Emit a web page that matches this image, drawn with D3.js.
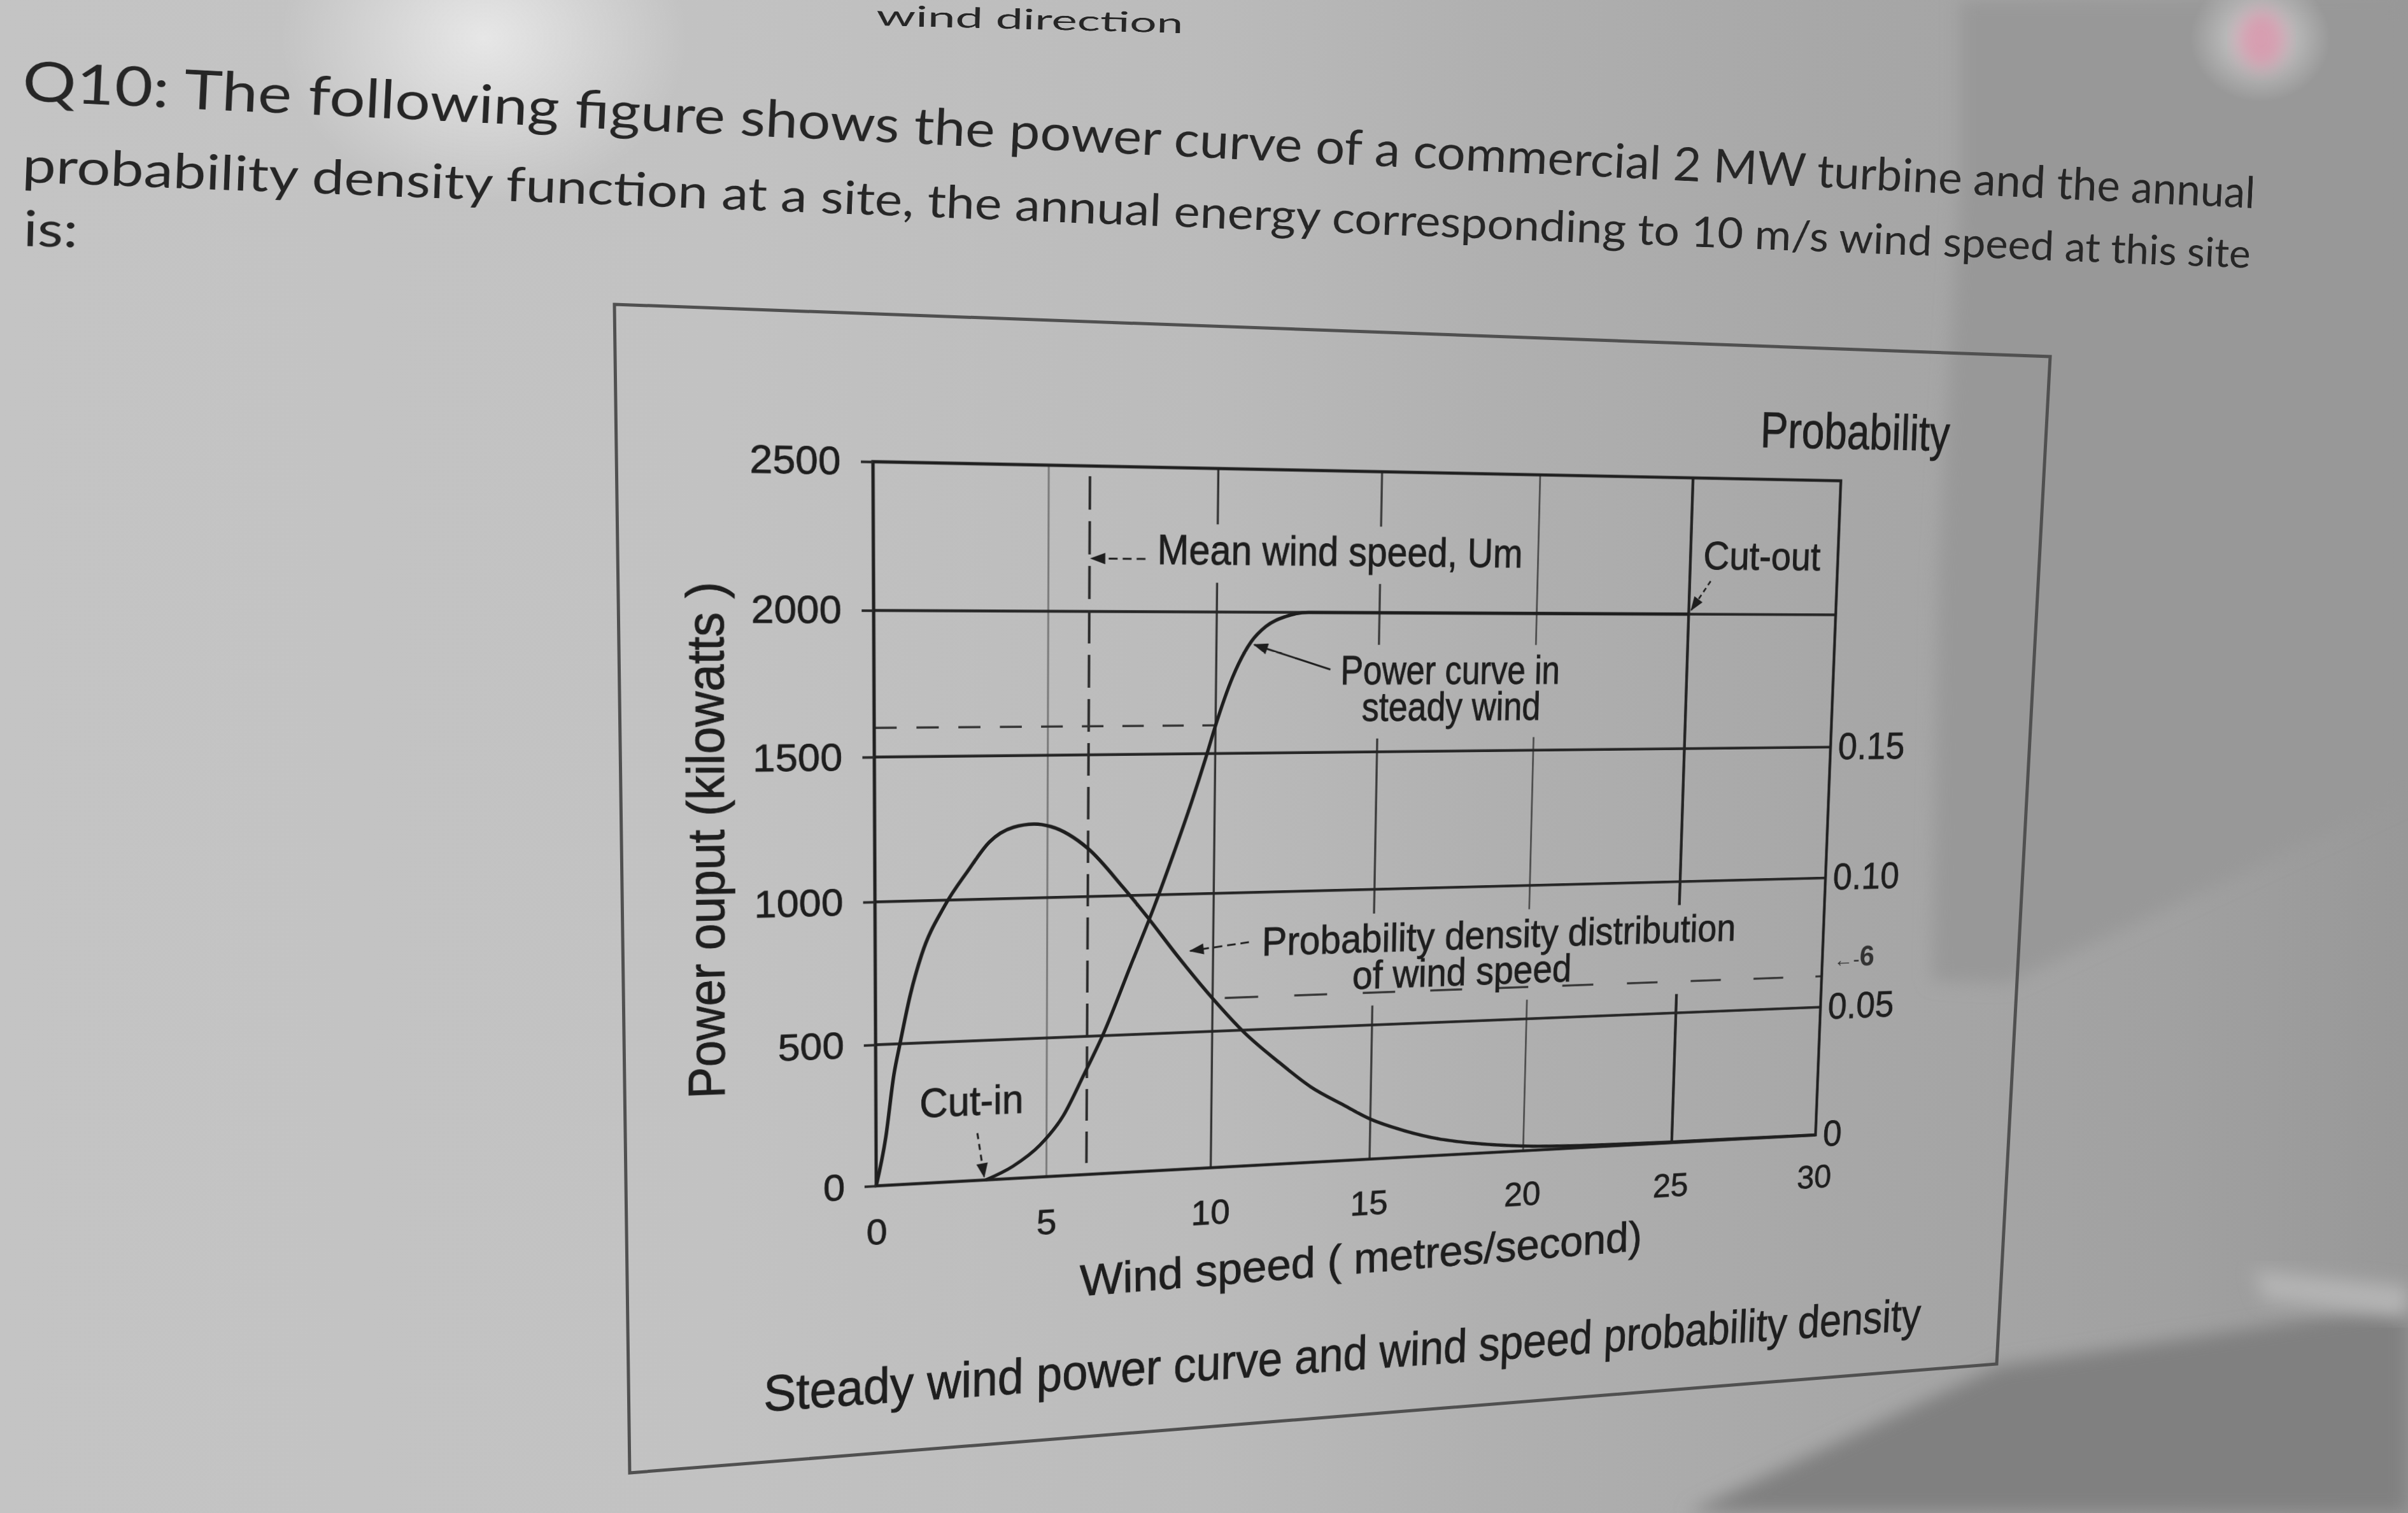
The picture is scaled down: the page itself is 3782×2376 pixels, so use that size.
<!DOCTYPE html>
<html><head><meta charset="utf-8"><title>Steady wind power curve and wind speed probability density</title>
<script src="https://cdn.jsdelivr.net/npm/d3@7"></script>
<style>
html,body{margin:0;padding:0;width:3782px;height:2376px;overflow:hidden;background:#b8b8b8;}
svg.layer{position:absolute;left:0;top:0;transform-origin:0 0;overflow:visible;}
</style></head><body>
<script>
// ---------------- DATA ----------------
const speedTicks = [0,5,10,15,20,25,30];
const powerTicks = [0,500,1000,1500,2000,2500];
const probTicks = [0,0.05,0.10,0.15];
const probTickLabels = ["0","0.05","0.10","0.15"];
const gridSpeeds = [5,10,15,20,25];
const gridPowers = [500,1000,1500,2000];
const powerSpeed = [3.2,4,4.8,5.5,6.1,6.7,7.5,8.2,8.75,9.3,9.7,10,10.5,11.05,11.5,12.1,12.8,14,25];
const powerKW    = [0,44,115,218,360,510,750,960,1140,1330,1480,1600,1770,1895,1950,1985,2000,2000,2000];
const pdfSpeed = [0,0.28,0.52,0.7,1.0,1.33,2,2.67,3.3,4,4.6,5.1,6.2,7.25,8.0,8.9,10,11,12.1,13.1,14.1,15,16.1,17.2,18.3,20,22,25,30];
const pdfProb  = [0,0.017,0.039,0.050,0.067,0.081,0.098,0.110,0.120,0.125,0.126,0.125,0.117,0.103,0.092,0.078,0.062,0.049,0.0375,0.028,0.021,0.015,0.010,0.0063,0.004,0.0018,0.0008,0.0003,0];
const meanSpeed = 6.2, cutInSpeed = 3.2, cutOutSpeed = 25;
const markSpeed = 10, markPower = 1600, markProb = 0.062;
const questionLines = [
  "Q10: The following figure shows the power curve of a commercial 2 MW turbine and the annual",
  "probability density function at a site, the annual energy corresponding to 10 m/s wind speed at this site",
  "is:"
];

// ---------------- LAYOUT ----------------
const W = 3782, H = 2376;
const PL = 1371, PT = 725, PW = 1600, PH = 1137;           // flat plot box
const photoPlot = [[1371,725],[2891,755],[2851,1782],[1376,1862]]; // where it lies in the photo
const INK = "#1e1e1e";
const FONT = "'Liberation Sans', Arial, Helvetica, sans-serif";

// ---------------- homography helpers ----------------
function solveH(src, dst){
  const A=[], b=[];
  for(let i=0;i<4;i++){
    const [u,v]=src[i], [x,y]=dst[i];
    A.push([u,v,1,0,0,0,-u*x,-v*x]); b.push(x);
    A.push([0,0,0,u,v,1,-u*y,-v*y]); b.push(y);
  }
  const n=8;
  for(let c=0;c<n;c++){
    let p=c; for(let r=c+1;r<n;r++) if(Math.abs(A[r][c])>Math.abs(A[p][c])) p=r;
    [A[c],A[p]]=[A[p],A[c]]; [b[c],b[p]]=[b[p],b[c]];
    for(let r=0;r<n;r++){ if(r===c) continue; const f=A[r][c]/A[c][c];
      for(let k=c;k<n;k++) A[r][k]-=f*A[c][k]; b[r]-=f*b[c]; }
  }
  const h=b.map((v,i)=>v/A[i][i]);
  return [[h[0],h[1],h[2]],[h[3],h[4],h[5]],[h[6],h[7],1]];
}
function inv3(m){
  const [a,b,c]=m[0],[d,e,f]=m[1],[g,h,i]=m[2];
  const A=e*i-f*h, B=-(d*i-f*g), C=d*h-e*g, det=a*A+b*B+c*C;
  return [[A/det,-(b*i-c*h)/det,(b*f-c*e)/det],
          [B/det,(a*i-c*g)/det,-(a*f-c*d)/det],
          [C/det,-(a*h-b*g)/det,(a*e-b*d)/det]];
}
function applyH(M,[u,v]){const w=M[2][0]*u+M[2][1]*v+M[2][2];
  return [(M[0][0]*u+M[0][1]*v+M[0][2])/w,(M[1][0]*u+M[1][1]*v+M[1][2])/w];}
function css(M){const s=M[2][2];
  return `matrix3d(${M[0][0]/s},${M[1][0]/s},0,${M[2][0]/s},${M[0][1]/s},${M[1][1]/s},0,${M[2][1]/s},0,0,1,0,${M[0][2]/s},${M[1][2]/s},0,1)`;}

// ---------------- background (photo lighting + frame) ----------------
const bg=d3.select("body").append("svg").attr("class","layer").attr("width",W).attr("height",H);
const bdefs=bg.append("defs");
const lg=bdefs.append("linearGradient").attr("id","bgGrad").attr("x1",0).attr("x2",1).attr("y1",0).attr("y2",0);
[[0,"#c4c4c4"],[0.3,"#c2c2c2"],[0.5,"#bbbbbb"],[0.62,"#b0b0b0"],[0.75,"#a8a8a8"],[0.9,"#a1a1a1"],[1,"#989898"]]
  .forEach(([o,c])=>lg.append("stop").attr("offset",o).attr("stop-color",c));
const rg=bdefs.append("radialGradient").attr("id","hl");
rg.append("stop").attr("offset",0).attr("stop-color","#ffffff").attr("stop-opacity",0.6);
rg.append("stop").attr("offset",1).attr("stop-color","#ffffff").attr("stop-opacity",0);
bdefs.append("filter").attr("id","soft").attr("x","-20%").attr("y","-20%").attr("width","140%").attr("height","140%")
  .append("feGaussianBlur").attr("stdDeviation",14);
bg.append("rect").attr("width",W).attr("height",H).attr("fill","url(#bgGrad)");
bg.append("ellipse").attr("cx",760).attr("cy",60).attr("rx",320).attr("ry",260).attr("fill","url(#hl)");
bg.append("polygon").attr("points","3078,0 3782,0 3782,1250 3150,1545 3035,1540 3045,900 3078,300")
  .attr("fill","#989898").attr("filter","url(#soft)");
bg.append("polygon").attr("points","2650,2376 3140,2145 3782,2050 3782,2376").attr("fill","#808080").attr("filter","url(#soft)");
bg.append("polygon").attr("points","3540,1995 3782,2020 3782,2070 3555,2040").attr("fill","#b4b4b4").attr("filter","url(#soft)");
bg.append("ellipse").attr("cx",3550).attr("cy",60).attr("rx",110).attr("ry",100).attr("fill","url(#hl)");
bg.append("ellipse").attr("cx",3552).attr("cy",62).attr("rx",38).attr("ry",46).attr("fill","#d899ad").attr("opacity",0.9).attr("filter","url(#soft)");
// figure frame
bg.append("polygon").attr("points","965,478 3220,560 3136,2142 989,2313")
  .attr("fill","none").attr("stroke","#505050").attr("stroke-width",5);

// ---------------- question text (per-line perspective) ----------------
function textQuad(str,p0,p1,capL,capR){
  const fs=100, capRatio=0.72, pad=20, base=150;
  const svg=d3.select("body").append("svg").attr("class","layer");
  const t=svg.append("text").attr("x",pad).attr("y",base).attr("font-size",fs)
    .attr("font-family","Lato, 'Open Sans', sans-serif").attr("fill","#262626").text(str);
  const Lm=t.node().getComputedTextLength();
  svg.attr("width",Lm+2*pad).attr("height",base+60);
  const dx=p1[0]-p0[0], dy=p1[1]-p0[1], L=Math.hypot(dx,dy), up=[dy/L,-dx/L];
  const src=[[pad,base-capRatio*fs],[pad+Lm,base-capRatio*fs],[pad+Lm,base],[pad,base]];
  const dst=[[p0[0]+up[0]*capL,p0[1]+up[1]*capL],[p1[0]+up[0]*capR,p1[1]+up[1]*capR],p1,p0];
  svg.style("transform",css(solveH(src,dst)));
}
textQuad("wind direction",[1376,40],[1858,52],32,31);
textQuad(questionLines[0],[34,158],[3541,327],62,49);
textQuad(questionLines[1],[34,286],[3534,421],55,45);
textQuad(questionLines[2],[36,386],[122,388],56,56);

// ---------------- figure (flat drawing, projected onto the photo) ----------------
const Hf=solveH([[PL,PT],[PL+PW,PT],[PL+PW,PT+PH],[PL,PT+PH]],photoPlot), Hfi=inv3(Hf);
const fig=d3.select("body").append("svg").attr("class","layer").attr("width",W).attr("height",H)
  .attr("font-family",FONT).style("transform",css(Hf));
const defs=fig.append("defs");
defs.append("marker").attr("id","head").attr("viewBox","0 0 12 9").attr("refX",11).attr("refY",4.5)
  .attr("markerWidth",26).attr("markerHeight",18).attr("markerUnits","userSpaceOnUse").attr("orient","auto")
  .append("path").attr("d","M0,0 L12,4.5 L0,9 Z").attr("fill",INK);

const x=d3.scaleLinear().domain([0,30]).range([PL,PL+PW]);
const yP=d3.scaleLinear().domain([0,2500]).range([PT+PH,PT]);
const yQ=d3.scaleLinear().domain([0,0.25]).range([PT+PH,PT]);
const kw=p=>yP.invert(yQ(p));

// annotation labels (positions in data units)
const ANN_FS=66;
const labels=[
  [{t:"Mean wind speed, Um",x0:8.2,x1:19.5,y:2165}],
  [{t:"Power curve in",x0:13.82,x1:20.8,y:1744},{t:"steady wind",x0:14.5,x1:20.2,y:1611}],
  [{t:"Probability density distribution",x0:11.5,x1:26.95,y:kw(0.077)},{t:"of wind speed",x0:14.35,x1:21.45,y:kw(0.0635)}],
  [{t:"Cut-in",x0:1.26,x1:4.31,y:236}],
  [{t:"Cut-out",x0:25.43,x1:29.4,y:2166}]
];
// mask so that grid lines break around labels
const mask=defs.append("mask").attr("id","gridMask").attr("maskUnits","userSpaceOnUse")
  .attr("x",0).attr("y",0).attr("width",W).attr("height",H);
mask.append("rect").attr("width",W).attr("height",H).attr("fill","#fff");
labels.forEach(grp=>{
  const xs=grp.flatMap(l=>[x(l.x0),x(l.x1)]), tops=grp.map(l=>yP(l.y)-0.76*ANN_FS), bots=grp.map(l=>yP(l.y)+0.22*ANN_FS);
  const x0=d3.min(xs)-16, x1=d3.max(xs)+16, y0=d3.min(tops)-14, y1=d3.max(bots)+14;
  mask.append("rect").attr("x",x0).attr("y",y0).attr("width",x1-x0).attr("height",y1-y0).attr("fill","#000");
});

// grid
const gridStyle={5:["#7a7a7a",3],10:["#343434",3.5],15:["#3a3a3a",3.5],20:["#4c4c4c",3],25:["#242424",5]};
const grid=fig.append("g").attr("mask","url(#gridMask)");
grid.selectAll("line.v").data(gridSpeeds).join("line").attr("class","v")
  .attr("x1",d=>x(d)).attr("x2",d=>x(d)).attr("y1",yP(0)).attr("y2",yP(2500))
  .attr("stroke",d=>gridStyle[d][0]).attr("stroke-width",d=>gridStyle[d][1]);
grid.selectAll("line.h").data(gridPowers).join("line").attr("class","h")
  .attr("x1",x(0)).attr("x2",x(30)).attr("y1",d=>yP(d)).attr("y2",d=>yP(d))
  .attr("stroke","#262626").attr("stroke-width",4.5);

// dashed guide lines
fig.append("line").attr("x1",x(meanSpeed)).attr("x2",x(meanSpeed)).attr("y1",yP(2465)).attr("y2",yP(20))
  .attr("stroke","#2a2a2a").attr("stroke-width",4).attr("stroke-dasharray","52,18");
fig.append("line").attr("x1",x(0)).attr("x2",x(markSpeed)).attr("y1",yP(markPower)).attr("y2",yP(markPower))
  .attr("stroke","#333").attr("stroke-width",3.5).attr("stroke-dasharray","34,30");
fig.append("line").attr("x1",x(markSpeed)+20).attr("x2",x(30)).attr("y1",yQ(markProb)).attr("y2",yQ(markProb))
  .attr("stroke","#333").attr("stroke-width",3.5).attr("stroke-dasharray","55,60");

// curves
const powerLine=d3.line().x(d=>x(d[0])).y(d=>yP(d[1])).curve(d3.curveMonotoneX);
fig.append("path").attr("d",powerLine(powerSpeed.map((s,i)=>[s,powerKW[i]])))
  .attr("fill","none").attr("stroke",INK).attr("stroke-width",5.5);
const pdfLine=d3.line().x(d=>x(d[0])).y(d=>yQ(d[1])).curve(d3.curveMonotoneX);
fig.append("path").attr("d",pdfLine(pdfSpeed.map((s,i)=>[s,pdfProb[i]])))
  .attr("fill","none").attr("stroke",INK).attr("stroke-width",5.5);

// plot border
fig.append("rect").attr("x",x(0)).attr("y",yP(2500)).attr("width",x(30)-x(0)).attr("height",yP(0)-yP(2500))
  .attr("fill","none").attr("stroke","#202020").attr("stroke-width",5);

// axes
function styleAxis(g,fs){
  g.attr("font-size",null).attr("font-family",null);
  g.select(".domain").remove();
  g.selectAll("text").attr("font-size",fs).attr("fill",INK).attr("stroke",INK).attr("stroke-width",0.8);
  g.selectAll("line").attr("stroke","#2a2a2a").attr("stroke-width",4);
}
fig.append("g").attr("transform",`translate(${x(0)},0)`)
  .call(d3.axisLeft(yP).tickValues(powerTicks).tickSize(18).tickPadding(30).tickFormat(d3.format("d")))
  .call(g=>styleAxis(g,60));
fig.append("g").attr("transform",`translate(0,${yP(0)})`)
  .call(d3.axisBottom(x).tickValues(speedTicks).tickSize(0).tickPadding(54).tickFormat(d3.format("d")))
  .call(g=>styleAxis(g,58));
fig.append("g").attr("transform",`translate(${x(30)},0)`)
  .call(d3.axisRight(yQ).tickValues(probTicks).tickSize(0).tickPadding(14).tickFormat((d,i)=>probTickLabels[i]))
  .call(g=>styleAxis(g,64));

// annotation texts
labels.forEach(grp=>grp.forEach(l=>{
  fig.append("text").attr("x",x(l.x0)).attr("y",yP(l.y)).attr("font-size",ANN_FS).attr("fill",INK)
    .attr("stroke",INK).attr("stroke-width",0.9)
    .attr("textLength",x(l.x1)-x(l.x0)).attr("lengthAdjust","spacingAndGlyphs").text(l.t);
}));
// arrows
const arrows=[
  {a:[7.85,2183],b:[meanSpeed+0.05,2183],dash:"14,8"},
  {a:[13.5,1797],b:[11.15,1885],dash:null},
  {a:[11.1,kw(0.082)],b:[9.3,kw(0.0795)],dash:"14,8"},
  {a:[2.95,170],b:[cutInSpeed-0.05,12],dash:"10,8"},
  {a:[25.7,2122],b:[cutOutSpeed+0.08,2015],dash:"8,6"}
];
arrows.forEach(r=>{
  fig.append("line").attr("x1",x(r.a[0])).attr("y1",yP(r.a[1])).attr("x2",x(r.b[0])).attr("y2",yP(r.b[1]))
    .attr("stroke",INK).attr("stroke-width",3).attr("stroke-dasharray",r.dash).attr("marker-end","url(#head)");
});
// small pencil mark by the right axis
const mk=fig.append("text").attr("x",x(30)+22).attr("y",yQ(0.0655)).attr("fill","#333");
mk.append("tspan").attr("font-size",36).text("←-");
mk.append("tspan").attr("font-size",50).attr("font-weight","bold").text("6");

// texts outside the plot, anchored on photo positions
function outerText(str,p0,p1,photoFs){
  const f0=applyH(Hfi,p0), f1=applyH(Hfi,p1);
  const dx=f1[0]-f0[0], dy=f1[1]-f0[1], len=Math.hypot(dx,dy), ang=Math.atan2(dy,dx)*180/Math.PI;
  const plen=Math.hypot(p1[0]-p0[0],p1[1]-p0[1]);
  fig.append("text").attr("transform",`translate(${f0[0]},${f0[1]}) rotate(${ang})`)
    .attr("font-size",photoFs*len/plen).attr("fill",INK).attr("stroke",INK).attr("stroke-width",0.9)
    .attr("textLength",len).attr("lengthAdjust","spacingAndGlyphs").text(str);
}
outerText("Power ouput (kilowatts )",[1138,1724],[1136,914],78);
outerText("Wind speed ( metres/second)",[1696,2035],[2578,1963],68);
outerText("Steady wind power curve and wind speed probability density",[1199,2216],[3015,2088],76);
outerText("Probability",[2764,702],[3061,708],72);
</script>
</body></html>
